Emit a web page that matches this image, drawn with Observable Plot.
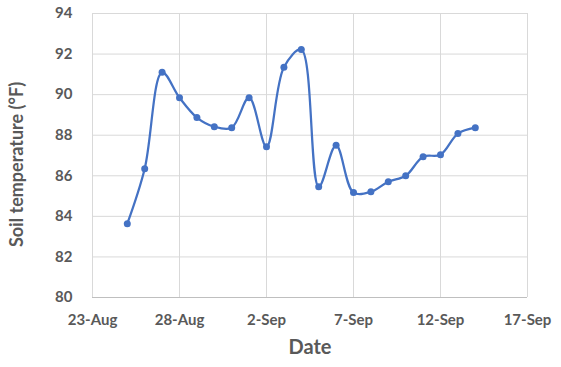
<!DOCTYPE html>
<html>
<head>
<meta charset="utf-8">
<script src="https://cdn.jsdelivr.net/npm/d3@7"></script>
<script src="https://cdn.jsdelivr.net/npm/@observablehq/plot@0.6"></script>
<style>
  html, body { margin: 0; padding: 0; background: #fff; }
</style>
</head>
<body>
<div id="chart"></div>
<script>
const dates = [
  "2021-08-25","2021-08-26","2021-08-27","2021-08-28","2021-08-29","2021-08-30","2021-08-31",
  "2021-09-01","2021-09-02","2021-09-03","2021-09-04","2021-09-05","2021-09-06","2021-09-07",
  "2021-09-08","2021-09-09","2021-09-10","2021-09-11","2021-09-12","2021-09-13","2021-09-14"
];
const temps = [
  83.64, 86.35, 91.10, 89.85, 88.87, 88.42, 88.37,
  89.85, 87.43, 91.35, 92.22, 85.46, 87.50, 85.17,
  85.21, 85.71, 86.00, 86.94, 87.04, 88.08, 88.37
];
const xTicks = ["2021-08-23","2021-08-28","2021-09-02","2021-09-07","2021-09-12","2021-09-17"];
const yTicks = [80, 82, 84, 86, 88, 90, 92, 94];
const yTitle = "Soil temperature (°F)";
const xTitle = "Date";

const data = dates.map((d, i) => ({date: new Date(d), temp: temps[i]}));
const xTickDates = xTicks.map(d => new Date(d));
const fmt = d3.utcFormat("%-d-%b");
const blue = "#4472C4";
const grey = "#595959";

const chart = Plot.plot({
  width: 561,
  height: 367,
  marginLeft: 92,
  marginRight: 34,
  marginTop: 13,
  marginBottom: 70,
  style: {fontFamily: "Lato, 'Open Sans', sans-serif", fontWeight: "bold", color: grey, background: "#fff", overflow: "visible"},
  x: {type: "utc", domain: [xTickDates[0], xTickDates[xTickDates.length - 1]]},
  y: {domain: [80, 94]},
  marks: [
    Plot.gridX(xTickDates, {stroke: "#d9d9d9", strokeOpacity: 1, strokeWidth: 1}),
    Plot.gridY(yTicks, {stroke: "#d9d9d9", strokeOpacity: 1, strokeWidth: 1}),
    Plot.ruleY([80], {stroke: "#bfbfbf", strokeWidth: 1}),
    Plot.axisX(xTickDates, {tickSize: 0, tickPadding: 17, tickFormat: fmt, fontSize: 15, label: null}),
    Plot.axisY(yTicks, {tickSize: 0, tickPadding: 20, fontSize: 15, label: null}),
    Plot.line(data, {x: "date", y: "temp", stroke: blue, strokeWidth: 2.25, curve: "catmull-rom"}),
    Plot.dot(data, {x: "date", y: "temp", fill: blue, r: 3.5}),
    Plot.text([yTitle], {frameAnchor: "left", textAnchor: "middle", rotate: -90, dx: -75, dy: 9, fontSize: 18, fill: grey}),
    Plot.text([xTitle], {frameAnchor: "bottom", dy: 56, fontSize: 20, fill: grey})
  ]
});
document.getElementById("chart").appendChild(chart);
</script>
</body>
</html>
